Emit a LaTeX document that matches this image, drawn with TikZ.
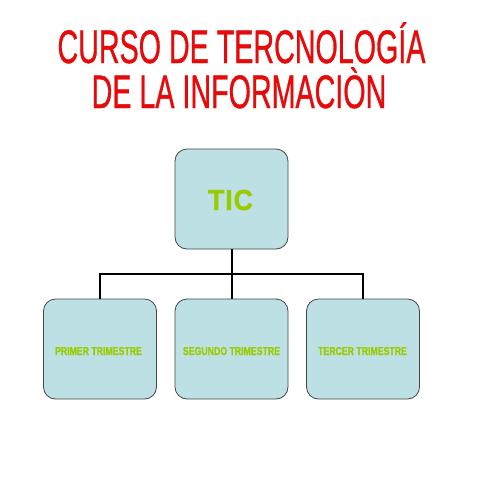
\documentclass[tikz,border=0pt]{standalone}
\usepackage{fontspec}
\setmainfont{Liberation Sans}
\newfontfamily\titlefont[FakeBold=1.0]{Liberation Sans}
\newfontfamily\heavyfont[FakeBold=1.2]{Liberation Sans Bold}
\definecolor{titlered}{RGB}{230,10,10}
\definecolor{boxfill}{RGB}{189,224,228}
\definecolor{boxtext}{RGB}{153,204,0}
\definecolor{boxline}{RGB}{70,70,70}
\begin{document}
\begin{tikzpicture}[x=1pt,y=-1pt,
  box/.style={draw=boxline,line width=0.8pt,fill=boxfill,rounded corners=12pt,
    minimum width=113pt,minimum height=100pt,inner sep=0pt},
  title/.style={text=titlered,anchor=base,inner sep=0pt,font=\titlefont\fontsize{47}{47}\selectfont},
  lbl/.style={text=boxtext,anchor=base,inner sep=0pt,font=\heavyfont\fontsize{11.5}{11.5}\selectfont},
  conn/.style={line width=2pt,black}]
\useasboundingbox[fill=white] (0,0) rectangle (480,480);
\node[title] (t1) at (241.5,63) {\scalebox{0.61}[1]{CURSO DE TERCNOLOGÍA}};
\node[title] (t2) at (239,108) {\scalebox{0.61}[1]{DE LA INFORMACIÒN}};
\node[box] (tic) at (231.5,199) {};
\node[text=boxtext,anchor=base,inner sep=0pt,font=\heavyfont\fontsize{29}{29}\selectfont] (ticl) at (230.5,210) {\scalebox{0.92}[1]{T\kern1pt I\kern1pt C}};
\node[box] (p1) at (100,349) {};
\node[box] (p2) at (231.5,349) {};
\node[box] (p3) at (363,349) {};
\node[lbl] (l1) at (98.5,355) {\scalebox{0.76}[1]{PRIMER TRIMESTRE}};
\node[lbl] (l2) at (231.5,355) {\scalebox{0.76}[1]{SEGUNDO TRIMESTRE}};
\node[lbl] (l3) at (362.5,355) {\scalebox{0.76}[1]{TERCER TRIMESTRE}};
\coordinate (bus) at (231.5,274);
\draw[conn] (tic.south) -- (bus);
\draw[conn] (p1.north) |- (bus) -| (p3.north);
\draw[conn] (bus) -- (p2.north);
\end{tikzpicture}
\end{document}
